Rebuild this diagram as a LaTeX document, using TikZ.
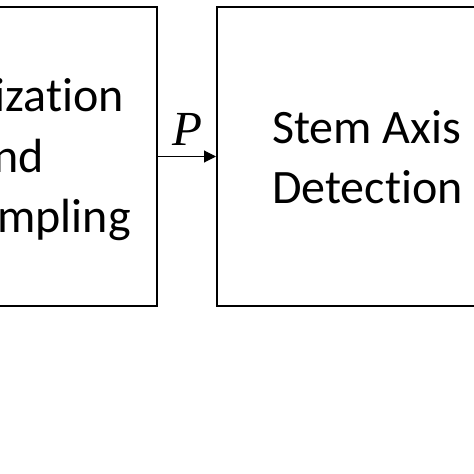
\documentclass[tikz,border=0pt]{standalone}
\usepackage{fontspec}
\setmainfont[Ligatures=NoCommon]{Carlito}
\newfontfamily\pfont{Liberation Serif}
\usetikzlibrary{arrows.meta}
\begin{document}
\begin{tikzpicture}[x=1pt,y=-1pt,
  blockbox/.style={draw=black,line width=2pt,minimum width=300pt,minimum height=299pt,inner sep=0pt},
  blocktext/.style={font=\fontsize{48}{60}\selectfont,align=center,inner sep=0pt},
  conn/.style={line width=1.1pt,-{Triangle[length=12pt,width=12pt]}}]
\useasboundingbox (0,0) rectangle (474,474);
\fill[white] (0,0) rectangle (474,474);
\clip (0,0) rectangle (474,474);
\node[blockbox,anchor=north east] (b1) at (158,5.5) {};
\node[blockbox,anchor=north west] (b2) at (216,5.5) {};
\node[blocktext,anchor=base] (t1) at (7,111) {Voxelization};
\node[blocktext,anchor=base] (t2) at (7,172) {and};
\node[blocktext,anchor=base] (t3) at (7,232) {Subsampling};
\node[blocktext,anchor=base west] (t4) at (272,143) {Stem Axis};
\node[blocktext,anchor=base west] (t5) at (272,203) {Detection};
\coordinate (a1) at (158,156.5);
\coordinate (a2) at (216,156.5);
\draw[conn] (a1) -- (a2);
\node[anchor=base,inner sep=0pt,font=\pfont\itshape\fontsize{49}{49}\selectfont] (p) at (187,145) {P};
\end{tikzpicture}
\end{document}
